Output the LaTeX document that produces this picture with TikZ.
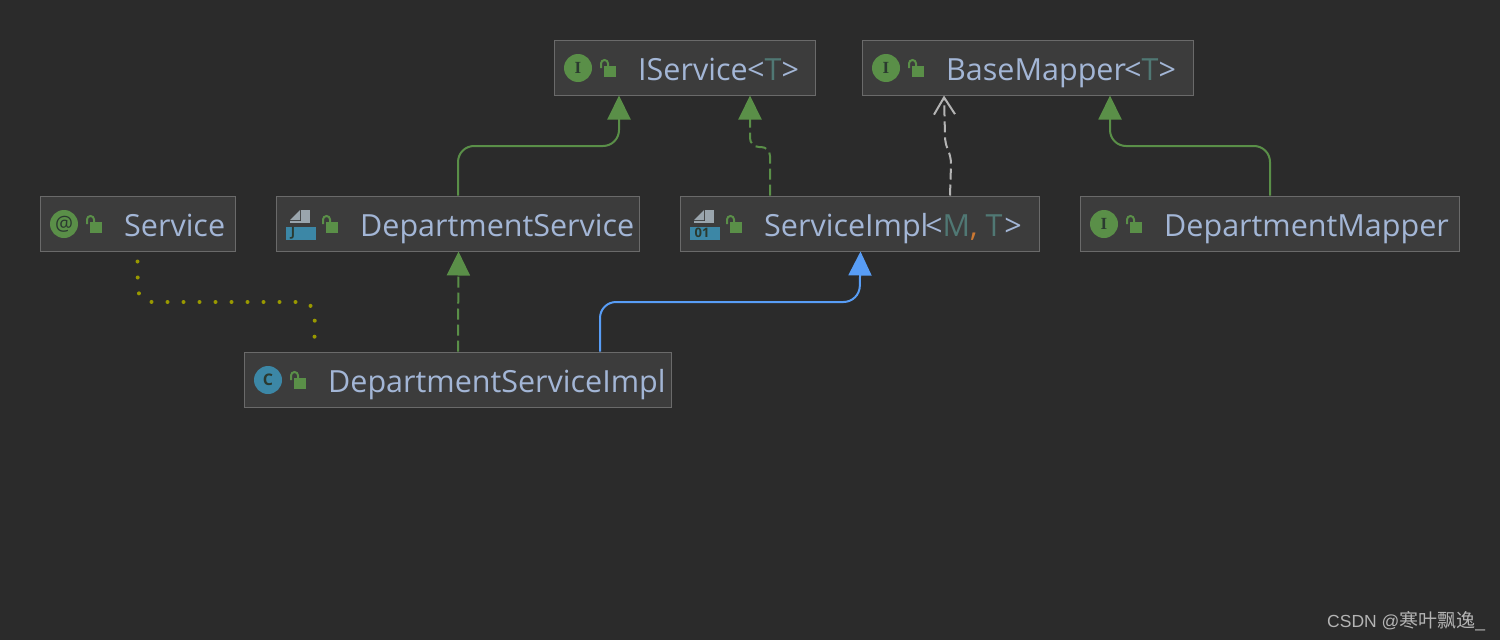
\documentclass[tikz,border=0pt]{standalone}
\usepackage{fontspec}
\setmainfont{Open Sans}
\newfontfamily\cjkfont{Noto Sans CJK SC}
\newfontfamily\markfont{Liberation Sans}
\newfontfamily\iconserif{Liberation Serif}
\usetikzlibrary{arrows.meta}
\definecolor{bg}{HTML}{2B2B2B}
\definecolor{boxfill}{HTML}{3C3C3C}
\definecolor{boxline}{HTML}{6A6A6A}
\definecolor{namecol}{HTML}{A3B6D6}
\definecolor{parcol}{HTML}{507874}
\definecolor{commacol}{HTML}{CC7832}
\definecolor{green1}{HTML}{5A8F48}
\definecolor{teal1}{HTML}{3C87A6}
\definecolor{doccol}{HTML}{9AA5AD}
\definecolor{blue1}{HTML}{589DF6}
\definecolor{olive1}{HTML}{999900}
\definecolor{gray1}{HTML}{B4B4B4}
\definecolor{icontxt}{HTML}{2B3A30}
\tikzset{
lock/.pic={
\draw[green1,line width=2pt] (1,8) -- (1,3.5) arc[start angle=180,end angle=360,radius=3.5] -- (8,6);
\fill[green1] (3.5,6) rectangle (16,16.5);
},
docicon/.pic={
\fill[doccol] (4,10) -- (14,0) -- (14,10) -- cycle;
\fill[doccol] (15,0) rectangle (24,13);
\fill[doccol] (4,11) rectangle (24,13);
\fill[teal1] (0,17) rectangle (30,30);
}}
\begin{document}
\begin{tikzpicture}[x=1pt,y=-1pt,
classbox/.style={draw=boxline,fill=boxfill,line width=1pt,minimum height=55pt,inner sep=0pt},
nametxt/.style={anchor=base west,inner sep=0pt,text=namecol,font=\fontsize{30.5}{30.5}\selectfont},
partxt/.style={anchor=base west,inner sep=0pt,text=parcol,font=\fontsize{30.5}{30.5}\selectfont},
roundicon/.style={circle,minimum size=28pt,inner sep=0pt,text=icontxt,font=\fontsize{20}{20}\selectfont},
filetxt/.style={anchor=center,inner sep=0pt,text=icontxt,font=\fontsize{13}{13}\selectfont\bfseries},
genline/.style={green1,line width=2pt,rounded corners=16pt,-{Triangle[width=23pt,length=24pt]}},
implline/.style={genline,dash pattern=on 11pt off 5pt,rounded corners=9pt},
extline/.style={genline,draw=blue1,-{Triangle[width=23pt,length=24pt,fill=blue1]}},
refline/.style={gray1,line width=2pt,dash pattern=on 11pt off 5pt,-{Straight Barb[width=21pt,length=17pt]}},
annoline/.style={olive1,line width=4pt,line cap=round,dash pattern=on 0pt off 16pt,rounded corners=14pt}]
\useasboundingbox (0,0) rectangle (1500,640);
\fill[bg] (0,0) rectangle (1500,640);
% boxes
\node[classbox,minimum width=261pt] (iservice) at (684.5,67.5) {};
\node[classbox,minimum width=331pt] (basemapper) at (1027.5,67.5) {};
\node[classbox,minimum width=195pt] (service) at (137.5,223.5) {};
\node[classbox,minimum width=363pt] (deptservice) at (457.5,223.5) {};
\node[classbox,minimum width=359pt] (serviceimpl) at (859.5,223.5) {};
\node[classbox,minimum width=379pt] (deptmapper) at (1269.5,223.5) {};
\node[classbox,minimum width=427pt] (deptimpl) at (457.5,379.5) {};
% names
\node[nametxt] (iservicename) at (638,80) {IService};
\node[partxt] (iserviceopen) at (747,80) {\textcolor{namecol}{<}T\textcolor{namecol}{>}};
\node[nametxt] (basemappername) at (946,80) {BaseMapper};
\node[partxt] (basemapperopen) at (1124,80) {\textcolor{namecol}{<}T\textcolor{namecol}{>}};
\node[nametxt] (servicename) at (124,236) {Service};
\node[nametxt] (deptservicename) at (360,236) {DepartmentService};
\node[nametxt] (serviceimplname) at (764,236) {ServiceImpl};
\node[partxt] (serviceimplopen) at (925,236) {\textcolor{namecol}{<}M\textcolor{commacol}{,} T\kern2pt\textcolor{namecol}{>}};
\node[nametxt] (deptmappername) at (1164,236) {DepartmentMapper};
\node[nametxt] (deptimplname) at (328,392) {DepartmentServiceImpl};
% icons
\node[roundicon,fill=green1,font=\fontsize{17}{17}\iconserif\bfseries] (iserviceicon) at (578,68) {I};
\node[roundicon,fill=green1,font=\fontsize{17}{17}\iconserif\bfseries] (basemappericon) at (886,68) {I};
\node[roundicon,fill=green1] (serviceicon) at (64,224) {@};
\node[roundicon,fill=green1,font=\fontsize{17}{17}\iconserif\bfseries] (deptmappericon) at (1104,224) {I};
\node[roundicon,fill=teal1,font=\fontsize{16}{16}\selectfont\bfseries] (deptimplicon) at (268,380) {C};
\pic at (286,210) {docicon};
\node[filetxt] (deptservicefile) at (293,233) {J};
\pic at (690,210) {docicon};
\node[filetxt] (serviceimplfile) at (702,233) {01};
\pic at (600,60) {lock};
\pic at (908,60) {lock};
\pic at (86,216) {lock};
\pic at (322,216) {lock};
\pic at (726,216) {lock};
\pic at (1126,216) {lock};
\pic at (290,372) {lock};
% connectors
\coordinate (refbend) at (945,135);
\draw[genline] ([xshift=182.5pt]deptservice.north west) -- ++(0,-49.5) -- ++(161,0) -- ([xshift=65.5pt]iservice.south west);
\draw[implline] ([xshift=90.5pt]serviceimpl.north west) -- ++(0,-48.5) -- ++(-20,0) -- ([xshift=196.5pt]iservice.south west);
\draw[refline] ([xshift=270.5pt]serviceimpl.north west) -- (951,165) .. controls (951,150) and (945,150) .. (refbend) -- ([xshift=82.5pt]basemapper.south west);
\draw[genline] ([xshift=190.5pt]deptmapper.north west) -- ++(0,-49.5) -- ++(-160,0) -- ([xshift=248.5pt]basemapper.south west);
\draw[implline] ([xshift=214.5pt]deptimpl.north west) -- ([xshift=1pt]deptservice.south);
\draw[extline] ([xshift=356.5pt]deptimpl.north west) -- ++(0,-49.5) -- ++(259.5,0) -- ([xshift=1pt]serviceimpl.south);
\draw[annoline] ([yshift=-10pt]service.south) -- (138,302) -- (315,302) -- ([xshift=71pt,yshift=13pt]deptimpl.north west);
% watermark
\node[anchor=base west,inner sep=0pt,text=gray1,font=\fontsize{17.5}{17.5}\markfont] (mark) at (1327,627) {CSDN @{\fontsize{19}{19}\cjkfont 寒叶飘逸}\_};
\end{tikzpicture}
\end{document}
